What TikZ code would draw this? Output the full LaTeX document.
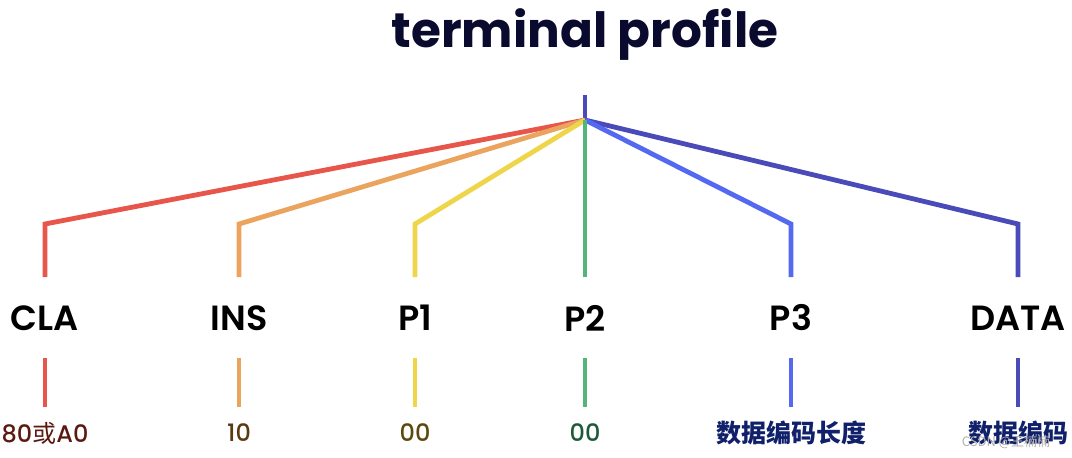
\documentclass[tikz,border=0pt]{standalone}
\usepackage{fontspec}
\setmainfont{Poppins}
\newfontfamily\semib{Poppins}[UprightFont=* SemiBold]
\newfontfamily\medi{Poppins}[UprightFont=* Medium]
\newfontfamily\cjk{Noto Sans CJK SC}
\definecolor{cred}{HTML}{E8554A}
\definecolor{corange}{HTML}{EBA45E}
\definecolor{cyellow}{HTML}{EED54A}
\definecolor{cgreen}{HTML}{52B67A}
\definecolor{cblue}{HTML}{5468F0}
\definecolor{cpurple}{HTML}{4A4AB8}
\definecolor{ctitle}{HTML}{0A0A2E}
\definecolor{tred}{HTML}{5A1A10}
\definecolor{tbrown}{HTML}{5A3A10}
\definecolor{tolive}{HTML}{5A4A10}
\definecolor{tgreen}{HTML}{1E5A3A}
\definecolor{tnavy}{HTML}{10206A}
\begin{document}
\begin{tikzpicture}[x=1pt,y=-1pt,
  branch/.style={line width=4.8pt},
  tick/.style={line width=3.2pt},
  field/.style={font=\semib\fontsize{35}{40}\selectfont, text=black, inner sep=0pt},
  val/.style={font=\medi\fontsize{24}{28}\selectfont, inner sep=0pt},
  title/.style={font=\fontsize{48.5}{56}\selectfont\bfseries, text=ctitle, inner sep=0pt}]
\useasboundingbox (0,0) rectangle (1072,458);
\node[title] (title) at (585,35) {terminal profile};
\coordinate (top) at (585,95);
\coordinate (root) at (585,120);
% corners
\coordinate (c1) at (45,224);
\coordinate (c2) at (239,224);
\coordinate (c3) at (415,224);
\coordinate (c5) at (791,224);
\coordinate (c6) at (1018,224);
% branch ends
\coordinate (e1) at (45,277);
\coordinate (e2) at (239,277);
\coordinate (e3) at (415,277);
\coordinate (e4) at (585,277);
\coordinate (e5) at (791,277);
\coordinate (e6) at (1018,277);
\draw[branch,cpurple] (top) -- (root);
\draw[branch,cpurple,line join=miter] (root) -- (c6) -- (e6);
\draw[branch,cblue,line join=miter] (root) -- (c5) -- (e5);
\draw[branch,cred,line join=miter] (root) -- (c1) -- (e1);
\draw[branch,corange,line join=miter] (root) -- (c2) -- (e2);
\draw[branch,cyellow,line join=miter] (root) -- (c3) -- (e3);
\draw[branch,cgreen] (root) -- (e4);
% field labels
\node[field] (f1) at (45,318) {CLA};
\node[field] (f2) at (239,318) {INS};
\node[field] (f3) at (415,318) {P1};
\node[field] (f4) at (585,318) {P2};
\node[field] (f5) at (791,318) {P3};
\node[field] (f6) at (1018,318) {DATA};
% ticks
\foreach \i/\x/\c in {1/45/cred,2/239/corange,3/415/cyellow,4/585/cgreen,5/791/cblue,6/1018/cpurple}{
  \coordinate (ta\i) at (\x,358);
  \coordinate (tb\i) at (\x,407);
  \draw[tick,\c] (ta\i) -- (tb\i);
}
% values
\node[val,text=tred] (v1) at (45,433) {80{\cjk 或}A0};
\node[val,text=tbrown] (v2) at (239,433) {10};
\node[val,text=tolive] (v3) at (415,433) {00};
\node[val,text=tgreen] (v4) at (585,433) {00};
\node[val,text=tnavy,font=\cjk\fontsize{25}{29}\selectfont\bfseries] (v5) at (791,433) {数据编码长度};
\node[val,text=tnavy,font=\cjk\fontsize{25}{29}\selectfont\bfseries] (v6) at (1018,433) {数据编码};
\node[font=\cjk\fontsize{13}{15}\selectfont, text=black!30, inner sep=0pt] (wm) at (1006,442) {CSDN @王楠楠};
\end{tikzpicture}
\end{document}
